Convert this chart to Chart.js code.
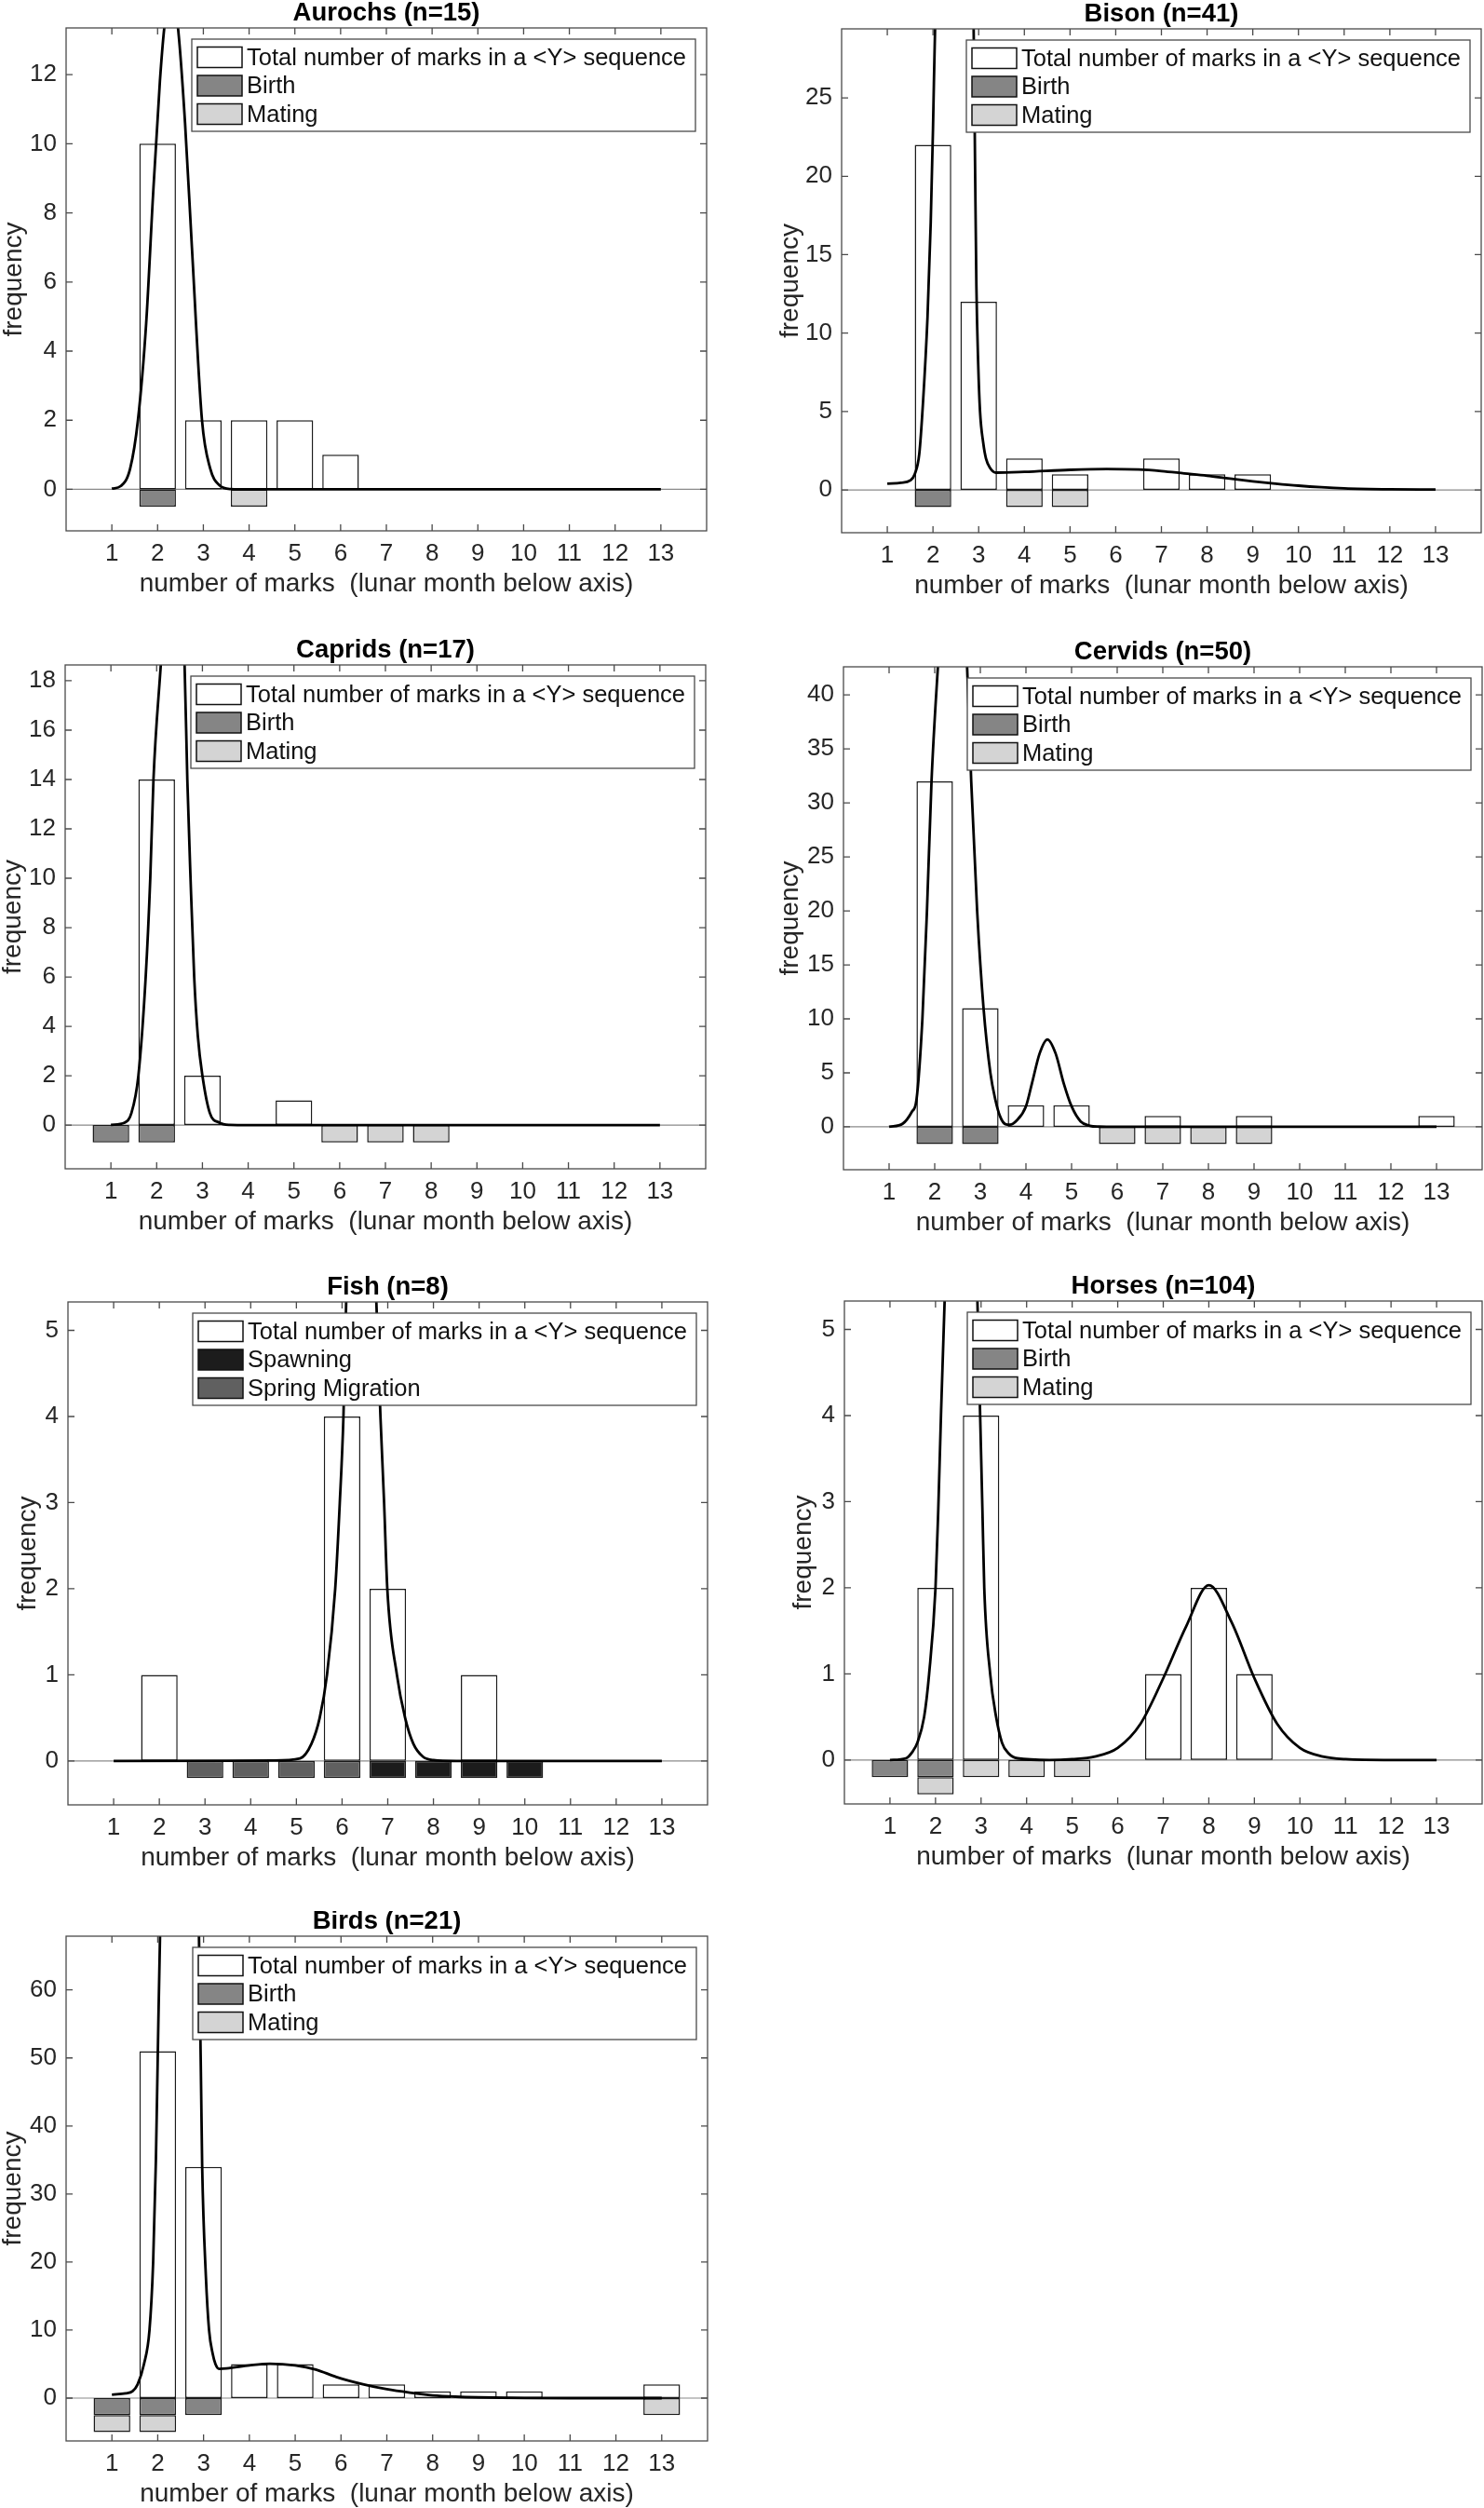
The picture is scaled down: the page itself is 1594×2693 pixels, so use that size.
<!DOCTYPE html>
<html>
<head>
<meta charset="utf-8">
<title>Number of marks per sequence</title>
<script src="https://cdn.jsdelivr.net/npm/chart.js@4/dist/chart.umd.min.js"></script>
<style>
  html, body { margin: 0; padding: 0; background: #fff; }
  #page { position: relative; width: 1594px; height: 2693px; overflow: hidden; }
  #page canvas { position: absolute; }
</style>
</head>
<body>
<div id="page"></div>
<script>
// x categories: number of marks / lunar month
const marks = [1, 2, 3, 4, 5, 6, 7, 8, 9, 10, 11, 12, 13];

// Aurochs (n=15)
const aurochsTotal  = [0, 10, 2, 2, 2, 1, 0, 0, 0, 0, 0, 0, 0];
const aurochsBirth  = [0, -0.5, 0, 0, 0, 0, 0, 0, 0, 0, 0, 0, 0];
const aurochsMating = [0, 0, 0, -0.5, 0, 0, 0, 0, 0, 0, 0, 0, 0];
const aurochsFitX = [1.0, 1.2, 1.4, 1.57, 1.75, 1.9, 2.05, 2.15, 2.3, 2.45, 2.6, 2.75, 2.97, 3.15, 3.35, 3.6, 4.0, 13.0];
const aurochsFitY = [0.02, 0.1, 0.6, 2.0, 4.8, 8.5, 11.8, 13.4, 14.6, 13.3, 10.6, 7.0, 2.0, 0.6, 0.12, 0.01, 0, 0];
const aurochsTicks = [0, 2, 4, 6, 8, 10, 12];

// Bison (n=41)
const bisonTotal  = [0, 22, 12, 2, 1, 0, 2, 1, 1, 0, 0, 0, 0];
const bisonBirth  = [0, -1.1, 0, 0, 0, 0, 0, 0, 0, 0, 0, 0, 0];
const bisonMating = [0, 0, 0, -1.1, -1.1, 0, 0, 0, 0, 0, 0, 0, 0];
const bisonFitX = [1.0, 1.3, 1.5, 1.6, 1.7, 1.78, 1.88, 1.95, 2.0, 2.05, 2.45, 2.89, 2.92, 2.95, 2.99, 3.03, 3.1, 3.16, 3.25, 3.38, 4.0, 5.0, 5.8, 6.5, 7.0, 7.5, 8.0, 8.5, 9.0, 9.5, 10.0, 10.5, 11.0, 12.0, 13.0];
const bisonFitY = [0.4, 0.45, 0.6, 1.0, 2.3, 5.5, 11, 17, 23, 30, 50, 29.4, 21, 13, 8, 5, 3, 2, 1.4, 1.1, 1.15, 1.28, 1.33, 1.3, 1.2, 1.05, 0.9, 0.72, 0.55, 0.4, 0.27, 0.17, 0.1, 0.04, 0.02];
const bisonTicks = [0, 5, 10, 15, 20, 25];

// Caprids (n=17)
const capridsTotal  = [0, 14, 2, 0, 1, 0, 0, 0, 0, 0, 0, 0, 0];
const capridsBirth  = [-0.7, -0.7, 0, 0, 0, 0, 0, 0, 0, 0, 0, 0, 0];
const capridsMating = [0, 0, 0, 0, 0, -0.7, -0.7, -0.7, 0, 0, 0, 0, 0];
const capridsFitX = [1.0, 1.3, 1.45, 1.6, 1.76, 1.86, 1.93, 2.09, 2.35, 2.61, 2.67, 2.74, 2.82, 2.9, 3.0, 3.16, 3.37, 3.6, 4.0, 13.0];
const capridsFitY = [0.01, 0.1, 0.5, 2.0, 6.0, 10.0, 14.0, 18.64, 26.0, 18.64, 14.0, 10.0, 6.0, 3.6, 2.0, 0.5, 0.1, 0.01, 0, 0];
const capridsTicks = [0, 2, 4, 6, 8, 10, 12, 14, 16, 18];

// Cervids (n=50)
const cervidsTotal  = [0, 32, 11, 2, 2, 0, 1, 0, 1, 0, 0, 0, 1];
const cervidsBirth  = [0, -1.6, -1.6, 0, 0, 0, 0, 0, 0, 0, 0, 0, 0];
const cervidsMating = [0, 0, 0, 0, 0, -1.6, -1.6, -1.6, -1.6, 0, 0, 0, 0];
const cervidsFitX = [1.0, 1.3, 1.5, 1.6, 1.73, 1.83, 1.93, 2.07, 2.39, 2.71, 2.8, 2.93, 3.07, 3.22, 3.33, 3.43, 3.55, 3.65, 3.8, 4.0, 4.13, 4.3, 4.47, 4.65, 4.83, 5.0, 5.2, 5.4, 5.6, 6.0, 13.0];
const cervidsFitY = [0.0, 0.3, 1.4, 2.5, 10, 20, 32, 42.6, 63, 42.6, 32, 20, 11, 5, 2.5, 1.0, 0.25, 0.2, 0.6, 1.9, 4.0, 6.8, 8.1, 6.8, 4.0, 1.9, 0.5, 0.1, 0.02, 0, 0];
const cervidsTicks = [0, 5, 10, 15, 20, 25, 30, 35, 40];

// Fish (n=8)
const fishTotal     = [0, 1, 0, 0, 0, 4, 2, 0, 1, 0, 0, 0, 0];
const fishSpawning  = [0, 0, 0, 0, 0, 0, -0.2, -0.2, -0.2, -0.2, 0, 0, 0];
const fishMigration = [0, 0, -0.2, -0.2, -0.2, -0.2, 0, 0, 0, 0, 0, 0, 0];
const fishFitX = [1.0, 4.5, 5.08, 5.33, 5.51, 5.67, 5.85, 5.95, 6.03, 6.09, 6.42, 6.75, 6.84, 6.92, 6.99, 7.2, 7.38, 7.56, 7.77, 8.0, 8.5, 13.0];
const fishFitY = [0, 0.005, 0.03, 0.2, 0.5, 1.0, 2.0, 3.0, 4.0, 5.33, 9.0, 5.33, 4.0, 3.0, 2.0, 1.0, 0.5, 0.2, 0.05, 0.01, 0, 0];
const fishTicks = [0, 1, 2, 3, 4, 5];

// Horses (n=104)
const horsesTotal  = [0, 2, 4, 0, 0, 0, 1, 2, 1, 0, 0, 0, 0];
const horsesBirth  = [-0.2, -0.2, 0, 0, 0, 0, 0, 0, 0, 0, 0, 0, 0];
const horsesMating = [0, -0.2, -0.2, -0.2, -0.2, 0, 0, 0, 0, 0, 0, 0, 0];
const horsesFitX = [1.0, 1.35, 1.5, 1.6, 1.75, 1.86, 2.0, 2.06, 2.12, 2.2, 2.56, 2.92, 2.98, 3.03, 3.07, 3.2, 3.33, 3.46, 3.6, 3.8, 4.5, 5.0, 5.5, 6.0, 6.5, 7.0, 7.5, 8.0, 8.5, 9.0, 9.5, 10.0, 10.5, 11.0, 12.0, 13.0];
const horsesFitY = [0, 0.02, 0.1, 0.2, 0.5, 1.0, 2.0, 2.9, 4.0, 5.33, 10, 5.33, 4.0, 2.9, 2.0, 1.0, 0.5, 0.2, 0.08, 0.02, 0, 0.01, 0.04, 0.14, 0.42, 0.95, 1.55, 2.03, 1.6, 0.95, 0.42, 0.14, 0.04, 0.01, 0, 0];
const horsesTicks = [0, 1, 2, 3, 4, 5];

// Birds (n=21)
const birdsTotal  = [0, 51, 34, 5, 5, 2, 2, 1, 1, 1, 0, 0, 2];
const birdsBirth  = [-2.5, -2.5, -2.5, 0, 0, 0, 0, 0, 0, 0, 0, 0, 0];
const birdsMating = [-2.5, -2.5, 0, 0, 0, 0, 0, 0, 0, 0, 0, 0, -2.5];
const birdsFitX = [1.0, 1.3, 1.45, 1.56, 1.7, 1.82, 1.9, 1.96, 2.0, 2.05, 2.45, 2.9, 2.97, 3.05, 3.12, 3.2, 3.26, 3.34, 3.5, 4.0, 4.45, 5.0, 5.45, 5.9, 6.5, 7.0, 7.5, 8.0, 8.5, 9.0, 10.0, 11.0, 13.0];
const birdsFitY = [0.5, 0.7, 1.0, 2.0, 5.0, 10, 20, 35, 50, 67.9, 120, 67.9, 34, 18, 10, 6.5, 5.0, 4.3, 4.35, 4.8, 5.05, 4.8, 4.2, 3.1, 2.0, 1.3, 0.8, 0.4, 0.2, 0.1, 0.02, 0, 0];
const birdsTicks = [0, 10, 20, 30, 40, 50, 60];

const FONT = '"Liberation Sans", Arial, Helvetica, sans-serif';
const WHITE = '#ffffff';
const BIRTH = '#858585';
const MATING = '#d4d4d4';
const SPAWNING = '#1c1c1c';
const MIGRATION = '#606060';

const panels = [
  { title: 'Aurochs (n=15)', x: 0, y: 0, h: 684, L: 71, R: 759, T: 30, B: 570, ylabX: 15, yMin: -1.2, yMax: 13.35,
    ticks: aurochsTicks, total: aurochsTotal, fitX: aurochsFitX, fitY: aurochsFitY,
    below: [['Birth', aurochsBirth, BIRTH], ['Mating', aurochsMating, MATING]] },
  { title: 'Bison (n=41)', x: 797, y: 0, h: 684, L: 107, R: 794, T: 31, B: 572, ylabX: 52, yMin: -2.73, yMax: 29.4,
    ticks: bisonTicks, total: bisonTotal, fitX: bisonFitX, fitY: bisonFitY,
    below: [['Birth', bisonBirth, BIRTH], ['Mating', bisonMating, MATING]] },
  { title: 'Caprids (n=17)', x: 0, y: 684, h: 684, L: 70, R: 758, T: 30, B: 571, ylabX: 14, yMin: -1.77, yMax: 18.64,
    ticks: capridsTicks, total: capridsTotal, fitX: capridsFitX, fitY: capridsFitY,
    below: [['Birth', capridsBirth, BIRTH], ['Mating', capridsMating, MATING]] },
  { title: 'Cervids (n=50)', x: 797, y: 684, h: 684, L: 109, R: 795, T: 32, B: 572, ylabX: 52, yMin: -3.97, yMax: 42.6,
    ticks: cervidsTicks, total: cervidsTotal, fitX: cervidsFitX, fitY: cervidsFitY,
    below: [['Birth', cervidsBirth, BIRTH], ['Mating', cervidsMating, MATING]] },
  { title: 'Fish (n=8)', x: 0, y: 1368, h: 684, L: 73, R: 760, T: 30, B: 570, ylabX: 30, yMin: -0.51, yMax: 5.33,
    ticks: fishTicks, total: fishTotal, fitX: fishFitX, fitY: fishFitY,
    below: [['Spawning', fishSpawning, SPAWNING], ['Spring Migration', fishMigration, MIGRATION]] },
  { title: 'Horses (n=104)', x: 797, y: 1368, h: 684, L: 110, R: 795, T: 29, B: 569, ylabX: 66, yMin: -0.51, yMax: 5.33,
    ticks: horsesTicks, total: horsesTotal, fitX: horsesFitX, fitY: horsesFitY,
    below: [['Birth', horsesBirth, BIRTH], ['Mating', horsesMating, MATING]] },
  { title: 'Birds (n=21)', x: 0, y: 2052, h: 641, L: 71, R: 760, T: 27, B: 569, ylabX: 14, yMin: -6.3, yMax: 67.9,
    ticks: birdsTicks, total: birdsTotal, fitX: birdsFitX, fitY: birdsFitY,
    below: [['Birth', birdsBirth, BIRTH], ['Mating', birdsMating, MATING]] }
];

// MATLAB-like frame: baseline, box with inward ticks, title and boxed legend
const frame = {
  id: 'frame',
  beforeDatasetsDraw(chart) {
    const { ctx, chartArea: a, scales: { y } } = chart;
    const y0 = y.getPixelForValue(0);
    ctx.save();
    ctx.strokeStyle = '#8a8a8a';
    ctx.lineWidth = 1.2;
    ctx.beginPath();
    ctx.moveTo(a.left, y0);
    ctx.lineTo(a.right, y0);
    ctx.stroke();
    ctx.restore();
  },
  afterDatasetsDraw(chart, args, opts) {
    const { ctx, chartArea: a, scales: { x, y } } = chart;
    ctx.save();
    ctx.strokeStyle = '#4a4a4a';
    ctx.lineWidth = 1.3;
    ctx.strokeRect(a.left, a.top, a.right - a.left, a.bottom - a.top);
    ctx.beginPath();
    x.ticks.forEach(t => {
      const px = x.getPixelForValue(t.value);
      ctx.moveTo(px, a.bottom); ctx.lineTo(px, a.bottom - 7);
      ctx.moveTo(px, a.top); ctx.lineTo(px, a.top + 7);
    });
    y.ticks.forEach(t => {
      const py = y.getPixelForValue(t.value);
      ctx.moveTo(a.left, py); ctx.lineTo(a.left + 7, py);
      ctx.moveTo(a.right, py); ctx.lineTo(a.right - 7, py);
    });
    ctx.stroke();

    // title
    ctx.fillStyle = '#000';
    ctx.font = 'bold 27.5px ' + FONT;
    ctx.textAlign = 'center';
    ctx.textBaseline = 'middle';
    ctx.fillText(opts.title, (a.left + a.right) / 2, a.top - 16);

    // legend
    const bw = 541, bh = 99;
    const bx = a.right - 12 - bw, by = a.top + 12;
    ctx.fillStyle = '#fff';
    ctx.fillRect(bx, by, bw, bh);
    ctx.strokeStyle = '#4a4a4a';
    ctx.lineWidth = 1.3;
    ctx.strokeRect(bx, by, bw, bh);
    ctx.font = '25.5px ' + FONT;
    ctx.textAlign = 'left';
    chart.data.datasets.filter(d => d.type === 'bar').forEach((d, i) => {
      const cy = by + 19.5 + i * 30.5;
      ctx.fillStyle = d.backgroundColor;
      ctx.fillRect(bx + 6, cy - 11, 48, 22);
      ctx.strokeStyle = '#111';
      ctx.lineWidth = 1.5;
      ctx.strokeRect(bx + 6, cy - 11, 48, 22);
      ctx.fillStyle = '#111';
      ctx.fillText(d.label, bx + 59, cy + 1);
    });
    ctx.restore();
  }
};

const page = document.getElementById('page');

panels.forEach(p => {
  const canvas = document.createElement('canvas');
  canvas.width = 797;
  canvas.height = p.h;
  canvas.style.left = p.x + 'px';
  canvas.style.top = p.y + 'px';
  canvas.style.width = '797px';
  canvas.style.height = p.h + 'px';
  page.appendChild(canvas);

  const series = [['Total number of marks in a <Y> sequence', p.total, WHITE]].concat(p.below);
  const datasets = series.map((s, k) => ({
    type: 'bar',
    label: s[0],
    stack: 'marks',
    order: 1,
    data: marks.map((m, i) => ({ x: m, y: (k > 0 && s[1][i] === 0) ? null : s[1][i] })),
    backgroundColor: s[2],
    borderColor: '#1a1a1a',
    borderWidth: 1.5,
    borderSkipped: false,
    categoryPercentage: 1,
    barPercentage: 0.8
  }));
  datasets.push({
    type: 'line',
    label: 'fit',
    data: p.fitX.map((v, i) => ({ x: v, y: p.fitY[i] })),
    borderColor: '#000',
    borderWidth: 2.8,
    pointRadius: 0,
    fill: false,
    cubicInterpolationMode: 'monotone',
    capBezierPoints: false,
    order: 0
  });

  new Chart(canvas, {
    type: 'bar',
    data: { datasets: datasets },
    options: {
      responsive: false,
      animation: false,
      devicePixelRatio: 1,
      layout: { padding: { left: 0, top: p.T, right: 797 - p.R, bottom: 0 } },
      plugins: {
        legend: { display: false },
        tooltip: { enabled: false },
        frame: { title: p.title }
      },
      scales: {
        x: {
          type: 'linear',
          min: 0,
          max: 14,
          offset: false,
          afterFit: s => { s.height = p.h - p.B; },
          afterBuildTicks: s => { s.ticks = marks.map(v => ({ value: v })); },
          grid: { display: false, drawTicks: false },
          border: { display: false },
          ticks: { font: { family: FONT, size: 26 }, color: '#262626', padding: 9, maxRotation: 0, autoSkip: false },
          title: {
            display: true,
            text: 'number of marks  (lunar month below axis)',
            color: '#262626',
            font: { family: FONT, size: 28, lineHeight: 1 },
            padding: { top: 0, bottom: (p.h - (p.B + 57)) - 14 }
          }
        },
        y: {
          type: 'linear',
          min: p.yMin,
          max: p.yMax,
          stacked: true,
          afterFit: s => { s.width = p.L; },
          afterBuildTicks: s => { s.ticks = p.ticks.map(v => ({ value: v })); },
          grid: { display: false, drawTicks: false },
          border: { display: false },
          ticks: { font: { family: FONT, size: 26 }, color: '#262626', padding: 10 },
          title: {
            display: true,
            text: 'frequency',
            color: '#262626',
            font: { family: FONT, size: 28, lineHeight: 1 },
            padding: { top: p.ylabX - 14, bottom: 0 }
          }
        }
      }
    },
    plugins: [frame]
  });
});
</script>
</body>
</html>
